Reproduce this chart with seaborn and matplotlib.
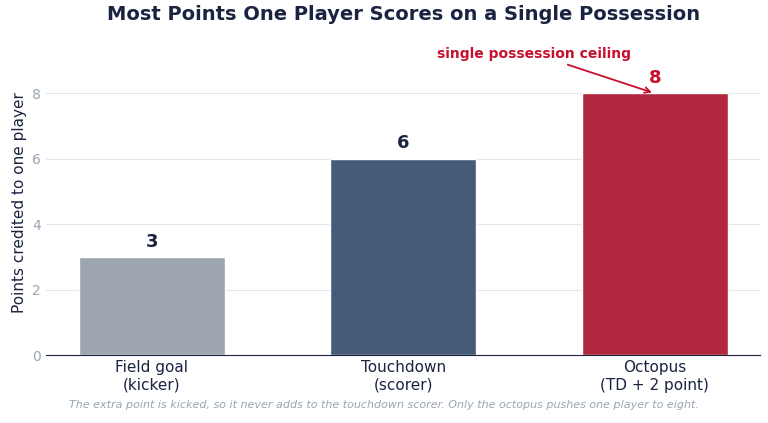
import seaborn as sns
import matplotlib.pyplot as plt
import pandas as pd

categories = ["Field goal\n(kicker)", "Touchdown\n(scorer)", "Octopus\n(TD + 2 point)"]
points = [3, 6, 8]
colors = ["#9aa5b1", "#3d5a80", "#c8102e"]
label_colors = ["#1a2340", "#1a2340", "#c8102e"]

df = pd.DataFrame({"play": categories, "points": points})

sns.set_style("white")
plt.rcParams['font.family'] = ['DejaVu Sans']
fig, ax = plt.subplots(figsize=(7.68, 4.23), dpi=100)
sns.barplot(data=df, x="play", y="points", hue="play", palette=colors, legend=False,
            width=0.58, ax=ax, edgecolor="white", linewidth=1)

for i, (v, c) in enumerate(zip(points, label_colors)):
    ax.text(i, v + 0.2, str(v), ha="center", va="bottom", fontsize=13, fontweight="bold", color=c)

ax.annotate("single possession ceiling", xy=(2, 8.0), xytext=(1.52, 9.0),
            ha="center", va="bottom", color="#c8102e", fontsize=10, fontweight="bold",
            arrowprops=dict(arrowstyle="->", color="#c8102e", lw=1.3))

ax.set_ylim(0, 9.3)
ax.set_yticks([0, 2, 4, 6, 8])
ax.set_xlim(-0.42, 2.42)
ax.yaxis.grid(True, color="#e5e7eb", linewidth=0.8)
ax.set_axisbelow(True)
for s in ["top", "right", "left"]:
    ax.spines[s].set_visible(False)
ax.spines["bottom"].set_color("#1a2340")
ax.tick_params(axis="y", colors="#9aa5b1", length=0, labelsize=10)
ax.tick_params(axis="x", colors="#1a2340", length=0, labelsize=11)
ax.set_xlabel("")
ax.set_ylabel("Points credited to one player", fontsize=11, color="#1a2340")
ax.set_title("Most Points One Player Scores on a Single Possession", fontsize=14,
             fontweight="bold", color="#1a2340", pad=22)
fig.text(0.5, 0.035, "The extra point is kicked, so it never adds to the touchdown scorer. Only the octopus pushes one player to eight.",
         ha="center", fontsize=8, style="italic", color="#9aa5b1")
fig.subplots_adjust(left=0.06, right=0.99, top=0.88, bottom=0.16)
fig.savefig("out.png")
